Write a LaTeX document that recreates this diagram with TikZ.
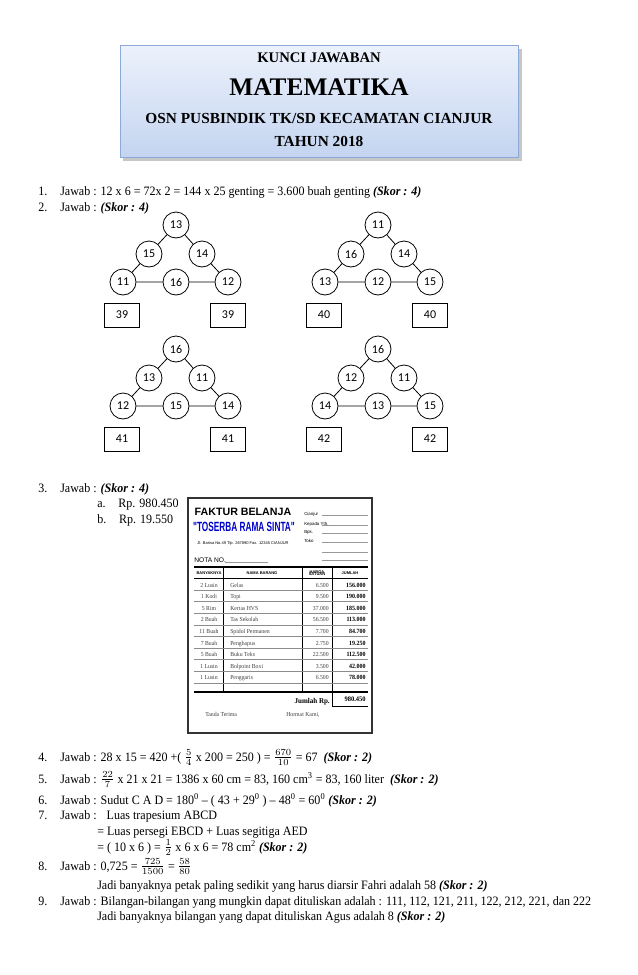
\documentclass[tikz,border=0pt]{standalone}
\usepackage{fontspec}
\setmainfont[FakeStretch=0.94]{Liberation Serif}
\newfontfamily\hdfont{Liberation Serif}
\newfontfamily\carfont{Carlito}
\newfontfamily\ssf{Liberation Sans}
\definecolor{hdtop}{RGB}{236,242,252}
\definecolor{hdbot}{RGB}{196,212,240}
\definecolor{hdline}{RGB}{140,170,215}
\usetikzlibrary{calc}
\begin{document}
\begin{tikzpicture}[x=0.75pt,y=-0.75pt,
  num/.style={circle,draw,line width=0.6pt,minimum size=19.5pt,inner sep=0pt,font=\carfont\fontsize{9}{10}\selectfont},
  sumbox/.style={draw,line width=0.6pt,minimum width=26pt,minimum height=18pt,inner sep=0pt,font=\carfont\fontsize{9}{10}\selectfont},
  edge/.style={line width=0.6pt},
  txt/.style={anchor=base west,inner sep=0pt,font=\fontsize{9.6}{11}\selectfont},
  inv/.style={anchor=base west,inner sep=0pt,font=\fontsize{4.6}{5}\selectfont,text=black!75},
  invb/.style={anchor=base east,inner sep=0pt,font=\bfseries\fontsize{4.8}{5}\selectfont},
  invr/.style={anchor=base east,inner sep=0pt,font=\fontsize{4.6}{5}\selectfont,text=black!75}]
\useasboundingbox (0,0) rectangle (638,975);
\fill[white] (0,0) rectangle (638,975);
% header
\fill[black!22] (123,49) rectangle (522,161);
\shade[top color=hdtop,bottom color=hdbot,draw=hdline] (120,45) rectangle (518,157);
\node[font=\hdfont\bfseries\fontsize{11}{12}\selectfont] (h1) at (319,58) {KUNCI JAWABAN};
\node[font=\hdfont\bfseries\fontsize{19}{20}\selectfont] (h2) at (319,87) {MATEMATIKA};
\node[font=\hdfont\bfseries\fontsize{11.5}{12}\selectfont] (h3) at (319,118) {OSN PUSBINDIK TK/SD KECAMATAN CIANJUR};
\node[font=\hdfont\bfseries\fontsize{11.5}{12}\selectfont] (h4) at (319,141) {TAHUN 2018};
% items
\node[txt] (n1) at (38,195) {1.};
\node[txt] (t1) at (60,195) {Jawab : 12 x 6 = 72x 2 = 144 x 25 genting = 3.600 buah genting \textbf{\textit{(Skor : 4)}}};
\node[txt] (n2) at (38,211) {2.};
\node[txt] (t2) at (60,211) {Jawab : \textbf{\textit{(Skor : 4)}}};
% triangles
\foreach \dx/\dy/\a/\b/\c/\d/\e/\f/\s in {0/0/13/15/14/11/16/12/39, 202/0/11/16/14/13/12/15/40, 0/124/16/13/11/12/15/14/41, 202/124/16/12/11/14/13/15/42}{
  \begin{scope}[shift={(\dx,\dy)}]
  \node[num] (A) at (176,225) {\a};
  \node[num] (B) at (149,254) {\b};
  \node[num] (C) at (202,254) {\c};
  \node[num] (D) at (123,282) {\d};
  \node[num] (E) at (176,282) {\e};
  \node[num] (F) at (228,282) {\f};
  \draw[edge] (A)--(B) (B)--(D) (A)--(C) (C)--(F) (D)--(E) (E)--(F);
  \node[sumbox] (S1) at (122,315) {\s};
  \node[sumbox] (S2) at (228,315) {\s};
  \end{scope}}
\node[txt] (n3) at (38,492) {3.};
\node[txt] (t3) at (60,492) {Jawab : \textbf{\textit{(Skor : 4)}}};
\node[txt] (t3a) at (97,507) {a.\quad Rp. 980.450};
\node[txt] (t3b) at (97,523) {b.\quad Rp. 19.550};
% invoice
\draw[line width=1.2pt,black!80] (188,498) rectangle (372,733);
\node[anchor=center,inner sep=0pt,font=\ssf\bfseries\fontsize{8}{8}\selectfont] (f1) at (243,512) {FAKTUR BELANJA};
\node[anchor=center,inner sep=0pt,font=\ssf\bfseries\fontsize{10}{10}\selectfont,text=blue!80!black,xscale=0.62] (f2) at (244,527) {"TOSERBA RAMA SINTA"};
\node[anchor=center,inner sep=0pt,font=\ssf\fontsize{3}{3}\selectfont] (f3) at (243,543) {Jl. Barisa No.49 Tlp. 267890 Fax. 12345 CIANJUR};
\foreach \yy/\tt in {515/Cianjur,525/Kepada Yth.,533/Bpk./Ibu,542/Toko}{\node[anchor=base west,inner sep=0pt,font=\ssf\fontsize{3.3}{3}\selectfont] at (304,\yy) {\tt};}
\foreach \yy in {515,525,533,542,552,560}{\draw[black!40,line width=0.3pt] (322,\yy) -- (368,\yy);}
\node[anchor=base west,inner sep=0pt,font=\ssf\fontsize{5}{5}\selectfont] (nota) at (194,562) {NOTA NO.};
\draw[black!40,line width=0.3pt] (225,562) -- (268,562);
\draw[line width=0.8pt] (194,567) -- (368,567);
\draw[line width=0.4pt] (194,578) -- (368,578);
\foreach \xx in {223,302,332}{\draw[line width=0.4pt] (\xx,567) -- (\xx,692);}
\node[font=\ssf\bfseries\fontsize{3}{3}\selectfont] at (209,573) {BANYAKNYA};
\node[font=\ssf\bfseries\fontsize{3}{3}\selectfont] at (262,573) {NAMA BARANG};
\node[font=\ssf\bfseries\fontsize{3}{3}\selectfont,align=center] at (317,573) {HARGA\\[-2pt]SATUAN};
\node[font=\ssf\bfseries\fontsize{3}{3}\selectfont] at (350,573) {JUMLAH};
\foreach \i/\q/\nm/\h/\j in {0/2 Lusin/Gelas/6.500/156.000,1/1 Kodi/Topi/9.500/190.000,2/5 Rim/Kertas HVS/37.000/185.000,3/2 Buah/Tas Sekolah/56.500/113.000,4/11 Buah/Spidol Permanen/7.700/84.700,5/7 Buah/Penghapus/2.750/19.250,6/5 Buah/Buku Teks/22.500/112.500,7/1 Lusin/Bolpoint Boxi/3.500/42.000,8/1 Lusin/Penggaris/6.500/78.000}{
  \pgfmathsetmacro\yy{587+11.6*\i}
  \node[inv,anchor=base] at (209,\yy) {\q};
  \node[inv] at (230,\yy) {\nm};
  \node[invr] at (329,\yy) {\h};
  \node[invb] at (366,\yy) {\j};
  \draw[black!45,line width=0.3pt] (194,\yy+3) -- (368,\yy+3);}
\draw[line width=0.9pt] (194,692) -- (368,692);
\node[anchor=base east,inner sep=0pt,font=\bfseries\fontsize{5.6}{6}\selectfont] (jr) at (330,703) {Jumlah Rp.};
\node[invb,font=\bfseries\fontsize{5.2}{6}\selectfont] (jv) at (366,701) {980.450};
\draw[line width=0.4pt] (332,692) -- (332,706) -- (368,706);
\node[inv] (tt) at (205,716) {Tanda Terima};
\node[inv] (hk) at (286,716) {Hormat Kami,};
% items 4-9
\node[txt] (n4) at (38,761) {4.};
\node[txt] (t4) at (60,761) {Jawab : 28 x 15 = 420 +( $\frac{5}{4}$ x 200 = 250 ) = $\frac{670}{10}$ = 67 \ \textbf{\textit{(Skor : 2)}}};
\node[txt] (n5) at (38,783) {5.};
\node[txt] (t5) at (60,783) {Jawab : $\frac{22}{7}$ x 21 x 21 = 1386 x 60 cm = 83, 160 cm\textsuperscript{3} = 83, 160 liter \ \textbf{\textit{(Skor : 2)}}};
\node[txt] (n6) at (38,804) {6.};
\node[txt] (t6) at (60,804) {Jawab : Sudut C A D = 180\textsuperscript{0} -- ( 43 + 29\textsuperscript{0} ) -- 48\textsuperscript{0} = 60\textsuperscript{0} \textbf{\textit{(Skor : 2)}}};
\node[txt] (n7) at (38,819) {7.};
\node[txt] (t7) at (60,819) {Jawab : \ \ Luas trapesium ABCD};
\node[txt] (t7b) at (97,835) {= Luas persegi EBCD + Luas segitiga AED};
\node[txt] (t7c) at (97,851) {= ( 10 x 6 ) = $\frac{1}{2}$ x 6 x 6 = 78 cm\textsuperscript{2} \textbf{\textit{(Skor : 2)}}};
\node[txt] (n8) at (38,870) {8.};
\node[txt] (t8) at (60,870) {Jawab : 0,725 = $\frac{725}{1500}$ = $\frac{58}{80}$};
\node[txt] (t8b) at (97,889) {Jadi banyaknya petak paling sedikit yang harus diarsir Fahri adalah 58 \textbf{\textit{(Skor : 2)}}};
\node[txt] (n9) at (38,905) {9.};
\node[txt] (t9) at (60,905) {Jawab : Bilangan-bilangan yang mungkin dapat dituliskan adalah : 111, 112, 121, 211, 122, 212, 221, dan 222};
\node[txt] (t9b) at (97,920) {Jadi banyaknya bilangan yang dapat dituliskan Agus adalah 8 \textbf{\textit{(Skor : 2)}}};
\end{tikzpicture}
\end{document}
